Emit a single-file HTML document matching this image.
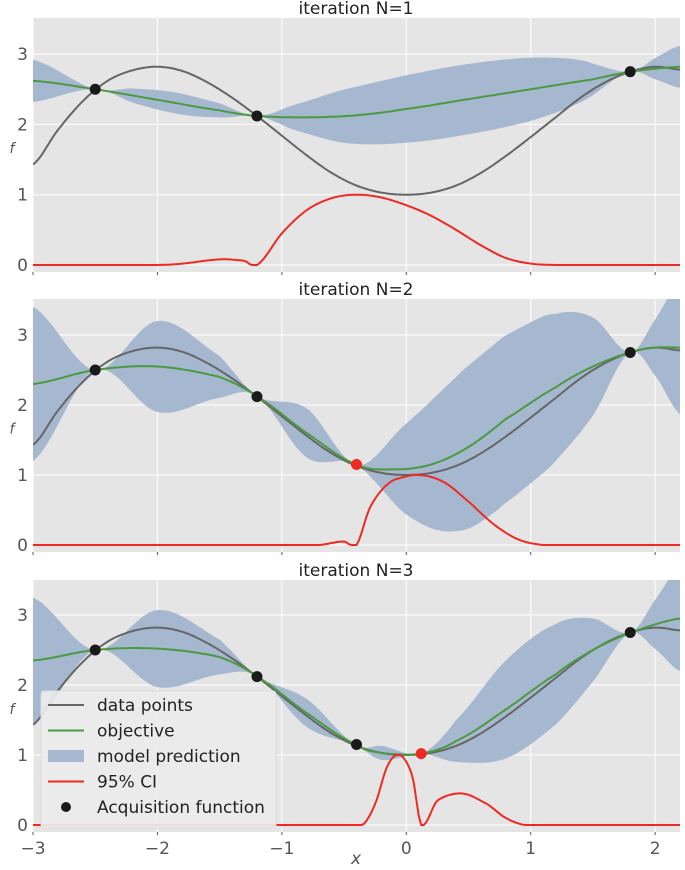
<!DOCTYPE html>
<html><head><meta charset="utf-8"><style>
body{margin:0;background:#fff;}
svg{display:block;font-family:"DejaVu Sans","Liberation Sans",sans-serif;}
</style></head><body>
<svg id="chart" width="685" height="870" viewBox="0 0 685 870" xmlns="http://www.w3.org/2000/svg"></svg>
<script>
// ---- data ----
const objX = [-3,-2.8,-2.6,-2.4,-2.2,-2,-1.8,-1.6,-1.4,-1.2,-1,-0.8,-0.6,-0.4,-0.2,0,0.2,0.4,0.6,0.8,1,1.2,1.4,1.6,1.8,2,2.2];
const objY = [1.43,1.92,2.33,2.62,2.77,2.82,2.76,2.6,2.38,2.12,1.84,1.56,1.31,1.13,1.03,1.0,1.03,1.13,1.31,1.55,1.82,2.1,2.38,2.6,2.75,2.82,2.78];

const m1X = [-3,-2.5,-2,-1.5,-1.2,-0.8,-0.4,0,0.5,1,1.5,1.8,2.2];
const m1Y = [2.62,2.5,2.35,2.2,2.12,2.1,2.13,2.22,2.36,2.5,2.64,2.75,2.82];
const h1X = [-3,-2.5,-2.2,-1.85,-1.5,-1.2,-0.9,-0.5,0,0.5,1,1.4,1.8,2.0,2.2];
const h1Y = [0.3,0,0.1,0.15,0.1,0,0.18,0.38,0.48,0.5,0.45,0.3,0,0.15,0.3];
const a1X = [-3,-2.2,-2,-1.8,-1.5,-1.3,-1.2,-1.0,-0.8,-0.6,-0.4,-0.2,0,0.2,0.4,0.6,0.8,1.0,1.2,2.2];
const a1Y = [0,0,0,0.02,0.08,0.06,0,0.45,0.78,0.95,1.0,0.96,0.85,0.7,0.5,0.28,0.1,0.02,0,0];

const m2X = [-3,-2.5,-2,-1.5,-1.2,-0.8,-0.4,-0.1,0.2,0.5,0.8,1.2,1.5,1.8,2.0,2.2];
const m2Y = [2.3,2.5,2.55,2.4,2.12,1.6,1.15,1.08,1.15,1.4,1.8,2.25,2.55,2.75,2.82,2.82];
const h2X = [-3,-2.5,-2,-1.5,-1.2,-0.8,-0.4,0,0.4,0.7,1.0,1.2,1.5,1.8,2.0,2.2];
const h2Y = [1.1,0,0.65,0.3,0,0.35,0,0.65,1.1,1.2,1.15,1.05,0.7,0,0.4,0.95];
const a2X = [-3,-0.7,-0.5,-0.4,-0.3,-0.2,-0.1,0.1,0.3,0.5,0.7,0.9,1.1,2.2];
const a2Y = [0,0,0.05,0,0.5,0.78,0.93,1.0,0.9,0.62,0.3,0.08,0,0];

const m3X = [-3,-2.5,-2,-1.5,-1.2,-0.8,-0.4,-0.2,0.12,0.4,0.8,1.2,1.5,1.8,2.2];
const m3Y = [2.35,2.5,2.52,2.4,2.12,1.6,1.15,1.03,1.02,1.2,1.65,2.15,2.5,2.75,2.95];
const h3X = [-3,-2.5,-2,-1.5,-1.2,-0.8,-0.4,-0.2,0.12,0.4,0.8,1.2,1.5,1.8,2.0,2.2];
const h3Y = [0.9,0,0.55,0.25,0,0.2,0,0.1,0,0.3,0.7,0.72,0.45,0,0.35,0.75];
const a3X = [-3,-0.35,-0.25,-0.15,-0.05,0.05,0.12,0.25,0.45,0.65,0.8,0.95,2.2];
const a3Y = [0,0,0.3,0.85,1.0,0.7,0,0.35,0.45,0.3,0.1,0,0];

const pts1X = [-2.5,-1.2,1.8], pts1Y = [2.5,2.12,2.75];
const pts2X = [-2.5,-1.2,1.8], pts2Y = [2.5,2.12,2.75], new2X = [-0.4], new2Y = [1.15];
const pts3X = [-2.5,-1.2,1.8,-0.4], pts3Y = [2.5,2.12,2.75,1.15], new3X = [0.12], new3Y = [1.02];

const xTicks = [-3,-2,-1,0,1,2];
const xTickLabels = ["\u22123","\u22122","\u22121","0","1","2"];
const yTicks = [0,1,2,3];
const titles = ["iteration N=1","iteration N=2","iteration N=3"];

// ---- layout ----
const NS="http://www.w3.org/2000/svg";
const svg=document.getElementById('chart');
const X0=33,X1=680;
const xs=v=>X0+(v+3)*(X1-X0)/5.2;
const panels=[{top:18,bot:272,zero:265,one:194.7},{top:299,bot:552,zero:545,one:475},{top:580,bot:832,zero:825,one:755}];
function el(tag,attrs,parent){const e=document.createElementNS(NS,tag);for(const k in attrs)e.setAttribute(k,attrs[k]);(parent||svg).appendChild(e);return e;}
function interp(xa,ya,x){if(x<=xa[0])return ya[0];for(let i=1;i<xa.length;i++){if(x<=xa[i]){const t=(x-xa[i-1])/(xa[i]-xa[i-1]);
 const p0=ya[Math.max(0,i-2)],p1=ya[i-1],p2=ya[i],p3=ya[Math.min(ya.length-1,i+1)];
 const t2=t*t,t3=t2*t;return 0.5*((2*p1)+(-p0+p2)*t+(2*p0-5*p1+4*p2-p3)*t2+(-p0+3*p1-3*p2+p3)*t3);}}return ya[ya.length-1];}
const samples=[];for(let x=-3;x<=2.2001;x+=0.02)samples.push(+x.toFixed(3));

const sets=[
 {mX:m1X,mY:m1Y,hX:h1X,hY:h1Y,aX:a1X,aY:a1Y,pX:pts1X,pY:pts1Y,nX:[],nY:[]},
 {mX:m2X,mY:m2Y,hX:h2X,hY:h2Y,aX:a2X,aY:a2Y,pX:pts2X,pY:pts2Y,nX:new2X,nY:new2Y},
 {mX:m3X,mY:m3Y,hX:h3X,hY:h3Y,aX:a3X,aY:a3Y,pX:pts3X,pY:pts3Y,nX:new3X,nY:new3Y}];

panels.forEach((p,i)=>{
 const ys=v=>p.zero-(p.zero-p.one)*v;
 const g=el('g',{});
 
 
 const bg=el('rect',{x:X0,y:p.top,width:X1-X0,height:p.bot-p.top,fill:'#e5e5e5'},g);
 
 
 xTicks.forEach((t,j)=>{el('line',{x1:xs(t),x2:xs(t),y1:p.top,y2:p.bot,stroke:'#fff','stroke-width':1},g);
  el('line',{x1:xs(t),x2:xs(t),y1:p.bot,y2:p.bot+3,stroke:'#555','stroke-width':1},g);
  if(i===2){const tl=el('text',{x:xs(t),y:p.bot+22,'text-anchor':'middle','font-size':17,fill:'#555'},g);tl.textContent=xTickLabels[j];
   
   }});
 yTicks.forEach(t=>{el('line',{x1:X0,x2:X1,y1:ys(t),y2:ys(t),stroke:'#fff','stroke-width':1},g);
  const tl=el('text',{x:X0-5,y:ys(t)+6,'text-anchor':'end','font-size':17,fill:'#555'},g);tl.textContent=t;
  
  });
 const tt=el('text',{x:356,y:p.top-4,'text-anchor':'middle','font-size':17,fill:'#222'},g);tt.textContent=titles[i];
 
 
 const fl=el('text',{x:12,y:(p.top+p.bot)/2+8,'text-anchor':'middle','font-size':14,'font-style':'italic',fill:'#555'},g);fl.textContent='f';
 
 
 const s=sets[i];
 const clip=el('clipPath',{id:'c'+i},g);el('rect',{x:X0,y:p.top,width:X1-X0,height:p.bot-p.top},clip);
 const cg=el('g',{'clip-path':'url(#c'+i+')'},g);
 let up=[],lo=[];
 samples.forEach(x=>{const m=interp(s.mX,s.mY,x),h=Math.max(0,interp(s.hX,s.hY,x));up.push(xs(x).toFixed(1)+','+ys(m+h).toFixed(1));lo.unshift(xs(x).toFixed(1)+','+ys(m-h).toFixed(1));});
 const band=el('polygon',{points:up.concat(lo).join(' '),fill:'#a6b8cf'},cg);
 
 
 const line=(xa,ya,col,name,clampZero)=>{const d=samples.map((x,k)=>{let v=interp(xa,ya,x);if(clampZero)v=Math.max(0,v);return (k?'L':'M')+xs(x).toFixed(1)+','+ys(v).toFixed(1);}).join('');
  const pth=el('path',{d:d,fill:'none',stroke:col,'stroke-width':2},cg);
  
  };
 line(objX,objY,'#666','objective-line',false);
 line(s.mX,s.mY,'#4a9a40','model-mean-line',false);
 line(s.aX,s.aY,'#ee2a22','acquisition-line',true);
 s.pX.forEach((x,k)=>{const c=el('circle',{cx:xs(x),cy:ys(s.pY[k]),r:5.5,fill:'#1a1a1a'},cg);
  
  });
 s.nX.forEach((x,k)=>{const c=el('circle',{cx:xs(x),cy:ys(s.nY[k]),r:5.5,fill:'#ee2a22'},cg);
  
  });
});
const xl=el('text',{x:356,y:864,'text-anchor':'middle','font-size':17,'font-style':'italic',fill:'#555'});xl.textContent='x';



// legend
const lg=el('g',{});


el('rect',{x:41,y:691,width:235,height:137,rx:3,fill:'#ececec','fill-opacity':0.92,stroke:'#dcdcdc'},lg);
const items=[['data points','line','#666'],['objective','line','#4a9a40'],['model prediction','patch','#a6b8cf'],['95% CI','line','#ee2a22'],['Acquisition function','dot','#1a1a1a']];
items.forEach((it,k)=>{const y=705+k*25.5;const eg=el('g',{},lg);
 
 
 if(it[1]==='line')el('line',{x1:48,x2:84,y1:y,y2:y,stroke:it[2],'stroke-width':2},eg);
 else if(it[1]==='patch')el('rect',{x:48,y:y-6,width:36,height:12,fill:it[2]},eg);
 else el('circle',{cx:66,cy:y,r:5,fill:it[2]},eg);
 const t=el('text',{x:97,y:y+6,'font-size':17,fill:'#222'},eg);t.textContent=it[0];});
</script>
</body></html>
